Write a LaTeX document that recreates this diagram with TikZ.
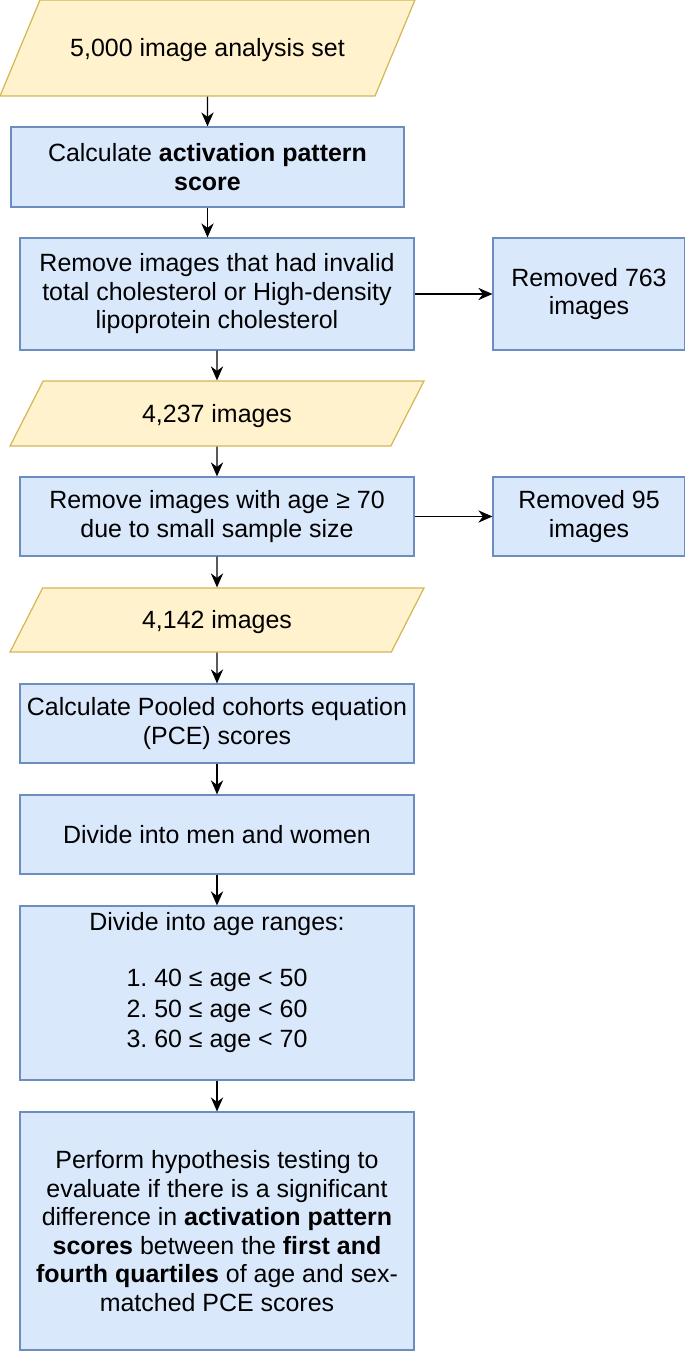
\documentclass[tikz,border=0pt]{standalone}
\usepackage{fontspec}
\setmainfont{Liberation Sans}
\usetikzlibrary{shapes.geometric,arrows.meta}

\definecolor{boxfill}{HTML}{DAE8FC}
\definecolor{boxline}{HTML}{6C8EBF}
\definecolor{datafill}{HTML}{FFF2CC}
\definecolor{dataline}{HTML}{D6B656}

\tikzset{
    stepbox/.style={draw=boxline, fill=boxfill, line width=0.7pt,
        align=center, inner sep=0pt, minimum width=7.88cm},
    databox/.style={trapezium, trapezium stretches body=true, draw=dataline,
        fill=datafill, line width=0.7pt, align=center, inner sep=0pt},
    flow/.style={-{Stealth[length=8pt,width=7pt]}, line width=0.7pt}
}

\begin{document}
\frenchspacing
\begin{tikzpicture}[x=0.02cm,y=-0.02cm,font=\fontsize{14.2}{16.2}\selectfont]

\useasboundingbox (0,0) rectangle (685,1352);

% Image sets
\node[databox, minimum width=8.3cm, text height=1.136cm, text depth=0.784cm,
    trapezium left angle=67.4, trapezium right angle=112.6]
    (set5000) at (207.5,48) {5,000 image analysis set};

\node[databox, minimum width=8.28cm, text height=0.826cm, text depth=0.474cm,
    trapezium left angle=63, trapezium right angle=117]
    (set4237) at (217,413.5) {4,237 images};

\node[databox, minimum width=8.28cm, text height=0.816cm, text depth=0.464cm,
    trapezium left angle=63, trapezium right angle=117]
    (set4142) at (217,620) {4,142 images};

% Processing steps
\node[stepbox, minimum width=7.86cm, minimum height=1.6cm]
    (calcaps) at (207.5,167)
    {Calculate \textbf{activation pattern}\\ \textbf{score}};

\node[stepbox, minimum height=2.24cm] (rmchol) at (217,294)
    {Remove images that had invalid\\ total cholesterol or High-density\\
    lipoprotein cholesterol};

\node[stepbox, minimum height=1.58cm] (rmage) at (217,516.5)
    {Remove images with age ≥ 70\\ due to small sample size};

\node[stepbox, minimum height=1.58cm] (calcpce) at (217,723.5)
    {Calculate Pooled cohorts equation\\ (PCE) scores};

\node[stepbox, minimum height=1.58cm] (divsex) at (217,834.5)
    {Divide into men and women};

\node[stepbox, minimum height=3.48cm] (divage) at (217,993)
    {Divide into age ranges:\\[-0.3pt] \mbox{}\\[-0.3pt]
    1. 40 ≤ age < 50\\[1.1pt] 2. 50 ≤ age < 60\\[1.1pt]
    3. 60 ≤ age < 70\\[-1.7pt] \mbox{}};

\node[stepbox, minimum height=4.76cm] (hyptest) at (217,1231)
    {Perform hypothesis testing to\\ evaluate if there is a significant\\
    difference in \textbf{activation pattern}\\
    \textbf{scores} between the \textbf{first and}\\
    \textbf{fourth quartiles} of age and sex-\\ matched PCE scores};

% Removed images
\node[stepbox, minimum width=3.84cm, minimum height=2.24cm]
    (rm763) at (589,294) {Removed 763\\ images};

\node[stepbox, minimum width=3.84cm, minimum height=1.58cm]
    (rm95) at (589,516.5) {Removed 95\\ images};

% Arrows
\draw[flow] (set5000) -- (calcaps);
\draw[flow] (calcaps.south) -- (calcaps.south |- rmchol.north);

\foreach \a/\b in {rmchol/set4237, set4237/rmage, rmage/set4142,
    set4142/calcpce, calcpce/divsex, divsex/divage, divage/hyptest,
    rmchol/rm763, rmage/rm95}
{
    \draw[flow] (\a) -- (\b);
}

\end{tikzpicture}
\end{document}
